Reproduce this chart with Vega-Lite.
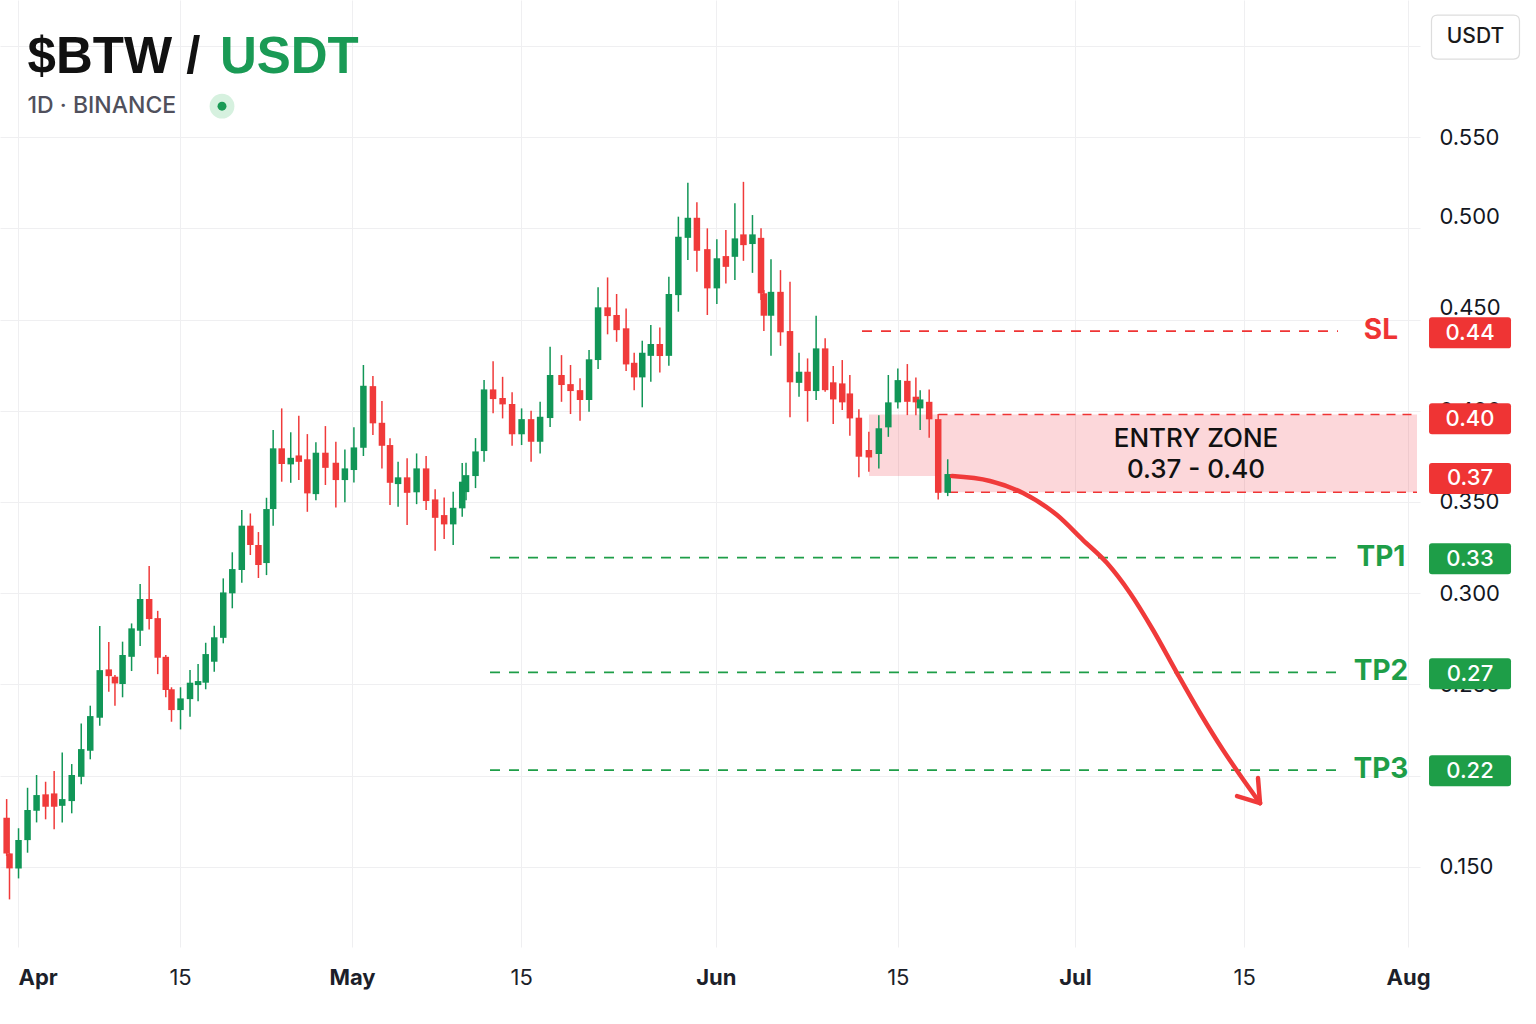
{
  "$schema": "https://vega.github.io/schema/vega-lite/v6.json",
  "width": 1420,
  "height": 947,
  "autosize": {"type": "none"},
  "padding": {"left": 0, "top": 0, "right": 116, "bottom": 77},
  "background": "#ffffff",
  "config": {"view": {"stroke": null}, "font": "Inter"},
  "datasets": {
    "candles": [
      {"t": "2025-03-31T02:00Z", "open": 0.1769, "high": 0.1871, "low": 0.1559, "close": 0.1573},
      {"t": "2025-03-31T08:00Z", "open": 0.1573, "high": 0.1575, "low": 0.1321, "close": 0.1491},
      {"t": "2025-04-01T03:00Z", "open": 0.1491, "high": 0.1711, "low": 0.1436, "close": 0.1646},
      {"t": "2025-04-01T22:00Z", "open": 0.1646, "high": 0.1933, "low": 0.1577, "close": 0.1811},
      {"t": "2025-04-02T17:00Z", "open": 0.1807, "high": 0.2003, "low": 0.1743, "close": 0.1893},
      {"t": "2025-04-03T12:00Z", "open": 0.1897, "high": 0.1966, "low": 0.1760, "close": 0.1829},
      {"t": "2025-04-04T06:00Z", "open": 0.1902, "high": 0.2025, "low": 0.1705, "close": 0.1829},
      {"t": "2025-04-04T23:00Z", "open": 0.1834, "high": 0.2127, "low": 0.1743, "close": 0.1871},
      {"t": "2025-04-05T19:00Z", "open": 0.1860, "high": 0.2063, "low": 0.1793, "close": 0.2003},
      {"t": "2025-04-06T15:00Z", "open": 0.1993, "high": 0.2286, "low": 0.1952, "close": 0.2145},
      {"t": "2025-04-07T10:00Z", "open": 0.2136, "high": 0.2383, "low": 0.2089, "close": 0.2326},
      {"t": "2025-04-08T06:00Z", "open": 0.2317, "high": 0.2820, "low": 0.2273, "close": 0.2578},
      {"t": "2025-04-09T01:00Z", "open": 0.2582, "high": 0.2732, "low": 0.2459, "close": 0.2545},
      {"t": "2025-04-09T14:00Z", "open": 0.2542, "high": 0.2551, "low": 0.2383, "close": 0.2505},
      {"t": "2025-04-10T06:00Z", "open": 0.2502, "high": 0.2734, "low": 0.2429, "close": 0.2661},
      {"t": "2025-04-11T01:00Z", "open": 0.2651, "high": 0.2834, "low": 0.2573, "close": 0.2807},
      {"t": "2025-04-11T19:00Z", "open": 0.2794, "high": 0.3050, "low": 0.2710, "close": 0.2968},
      {"t": "2025-04-12T14:00Z", "open": 0.2968, "high": 0.3149, "low": 0.2801, "close": 0.2858},
      {"t": "2025-04-13T08:00Z", "open": 0.2863, "high": 0.2903, "low": 0.2556, "close": 0.2646},
      {"t": "2025-04-14T01:00Z", "open": 0.2651, "high": 0.2661, "low": 0.2429, "close": 0.2469},
      {"t": "2025-04-14T13:00Z", "open": 0.2473, "high": 0.2484, "low": 0.2295, "close": 0.2359},
      {"t": "2025-04-15T08:00Z", "open": 0.2359, "high": 0.2484, "low": 0.2253, "close": 0.2423},
      {"t": "2025-04-16T04:00Z", "open": 0.2419, "high": 0.2578, "low": 0.2322, "close": 0.2509},
      {"t": "2025-04-16T21:00Z", "open": 0.2496, "high": 0.2611, "low": 0.2408, "close": 0.2518},
      {"t": "2025-04-17T13:00Z", "open": 0.2509, "high": 0.2728, "low": 0.2473, "close": 0.2666},
      {"t": "2025-04-18T07:00Z", "open": 0.2624, "high": 0.2821, "low": 0.2569, "close": 0.2758},
      {"t": "2025-04-19T02:00Z", "open": 0.2755, "high": 0.3081, "low": 0.2725, "close": 0.3004},
      {"t": "2025-04-19T21:00Z", "open": 0.2999, "high": 0.3224, "low": 0.2917, "close": 0.3132},
      {"t": "2025-04-20T17:00Z", "open": 0.3127, "high": 0.3456, "low": 0.3057, "close": 0.3370},
      {"t": "2025-04-21T11:00Z", "open": 0.3370, "high": 0.3437, "low": 0.3209, "close": 0.3264},
      {"t": "2025-04-22T04:00Z", "open": 0.3264, "high": 0.3335, "low": 0.3083, "close": 0.3154},
      {"t": "2025-04-22T21:00Z", "open": 0.3165, "high": 0.3523, "low": 0.3099, "close": 0.3461},
      {"t": "2025-04-23T11:00Z", "open": 0.3461, "high": 0.3894, "low": 0.3370, "close": 0.3794},
      {"t": "2025-04-24T05:00Z", "open": 0.3794, "high": 0.4013, "low": 0.3611, "close": 0.3708},
      {"t": "2025-04-25T00:00Z", "open": 0.3706, "high": 0.3882, "low": 0.3605, "close": 0.3742},
      {"t": "2025-04-25T17:00Z", "open": 0.3755, "high": 0.3973, "low": 0.3620, "close": 0.3720},
      {"t": "2025-04-26T11:00Z", "open": 0.3734, "high": 0.3872, "low": 0.3446, "close": 0.3547},
      {"t": "2025-04-27T05:00Z", "open": 0.3543, "high": 0.3827, "low": 0.3510, "close": 0.3770},
      {"t": "2025-04-28T01:00Z", "open": 0.3770, "high": 0.3916, "low": 0.3593, "close": 0.3687},
      {"t": "2025-04-28T23:00Z", "open": 0.3715, "high": 0.3830, "low": 0.3470, "close": 0.3620},
      {"t": "2025-04-29T18:00Z", "open": 0.3620, "high": 0.3788, "low": 0.3498, "close": 0.3684},
      {"t": "2025-04-30T13:00Z", "open": 0.3675, "high": 0.3909, "low": 0.3607, "close": 0.3799},
      {"t": "2025-05-01T09:00Z", "open": 0.3797, "high": 0.4251, "low": 0.3752, "close": 0.4137},
      {"t": "2025-05-02T05:00Z", "open": 0.4135, "high": 0.4190, "low": 0.3867, "close": 0.3931},
      {"t": "2025-05-03T00:00Z", "open": 0.3934, "high": 0.4053, "low": 0.3684, "close": 0.3808},
      {"t": "2025-05-03T17:00Z", "open": 0.3812, "high": 0.3849, "low": 0.3483, "close": 0.3605},
      {"t": "2025-05-04T10:00Z", "open": 0.3598, "high": 0.3720, "low": 0.3474, "close": 0.3635},
      {"t": "2025-05-05T05:00Z", "open": 0.3635, "high": 0.3739, "low": 0.3373, "close": 0.3550},
      {"t": "2025-05-06T01:00Z", "open": 0.3553, "high": 0.3766, "low": 0.3488, "close": 0.3684},
      {"t": "2025-05-06T21:00Z", "open": 0.3684, "high": 0.3752, "low": 0.3456, "close": 0.3505},
      {"t": "2025-05-07T16:00Z", "open": 0.3514, "high": 0.3569, "low": 0.3232, "close": 0.3413},
      {"t": "2025-05-08T11:00Z", "open": 0.3428, "high": 0.3525, "low": 0.3297, "close": 0.3377},
      {"t": "2025-05-09T06:00Z", "open": 0.3377, "high": 0.3556, "low": 0.3264, "close": 0.3468},
      {"t": "2025-05-10T01:00Z", "open": 0.3465, "high": 0.3713, "low": 0.3419, "close": 0.3611},
      {"t": "2025-05-10T09:00Z", "open": 0.3554, "high": 0.3715, "low": 0.3510, "close": 0.3647},
      {"t": "2025-05-11T05:00Z", "open": 0.3642, "high": 0.3850, "low": 0.3576, "close": 0.3777},
      {"t": "2025-05-11T23:00Z", "open": 0.3779, "high": 0.4168, "low": 0.3720, "close": 0.4117},
      {"t": "2025-05-12T18:00Z", "open": 0.4117, "high": 0.4272, "low": 0.3986, "close": 0.4064},
      {"t": "2025-05-13T14:00Z", "open": 0.4070, "high": 0.4186, "low": 0.3958, "close": 0.4035},
      {"t": "2025-05-14T10:00Z", "open": 0.4037, "high": 0.4101, "low": 0.3808, "close": 0.3871},
      {"t": "2025-05-15T06:00Z", "open": 0.3871, "high": 0.4013, "low": 0.3812, "close": 0.3954},
      {"t": "2025-05-16T02:00Z", "open": 0.3954, "high": 0.4000, "low": 0.3720, "close": 0.3830},
      {"t": "2025-05-16T21:00Z", "open": 0.3830, "high": 0.4049, "low": 0.3766, "close": 0.3967},
      {"t": "2025-05-17T18:00Z", "open": 0.3960, "high": 0.4351, "low": 0.3911, "close": 0.4196},
      {"t": "2025-05-18T18:00Z", "open": 0.4196, "high": 0.4305, "low": 0.4049, "close": 0.4141},
      {"t": "2025-05-19T13:00Z", "open": 0.4146, "high": 0.4251, "low": 0.3982, "close": 0.4108},
      {"t": "2025-05-20T09:00Z", "open": 0.4113, "high": 0.4178, "low": 0.3945, "close": 0.4059},
      {"t": "2025-05-21T04:00Z", "open": 0.4059, "high": 0.4333, "low": 0.3995, "close": 0.4282},
      {"t": "2025-05-21T23:00Z", "open": 0.4278, "high": 0.4677, "low": 0.4229, "close": 0.4567},
      {"t": "2025-05-22T19:00Z", "open": 0.4567, "high": 0.4731, "low": 0.4419, "close": 0.4519},
      {"t": "2025-05-23T14:00Z", "open": 0.4525, "high": 0.4640, "low": 0.4378, "close": 0.4442},
      {"t": "2025-05-24T10:00Z", "open": 0.4452, "high": 0.4561, "low": 0.4218, "close": 0.4254},
      {"t": "2025-05-25T03:00Z", "open": 0.4263, "high": 0.4318, "low": 0.4113, "close": 0.4183},
      {"t": "2025-05-25T20:00Z", "open": 0.4183, "high": 0.4384, "low": 0.4019, "close": 0.4318},
      {"t": "2025-05-26T14:00Z", "open": 0.4301, "high": 0.4470, "low": 0.4159, "close": 0.4366},
      {"t": "2025-05-27T09:00Z", "open": 0.4366, "high": 0.4457, "low": 0.4210, "close": 0.4300},
      {"t": "2025-05-28T04:00Z", "open": 0.4301, "high": 0.4735, "low": 0.4247, "close": 0.4640},
      {"t": "2025-05-29T00:00Z", "open": 0.4634, "high": 0.5064, "low": 0.4543, "close": 0.4954},
      {"t": "2025-05-29T20:00Z", "open": 0.4948, "high": 0.5250, "low": 0.4826, "close": 0.5058},
      {"t": "2025-05-30T15:00Z", "open": 0.5058, "high": 0.5143, "low": 0.4762, "close": 0.4877},
      {"t": "2025-05-31T13:00Z", "open": 0.4886, "high": 0.5000, "low": 0.4525, "close": 0.4671},
      {"t": "2025-06-01T09:00Z", "open": 0.4671, "high": 0.4940, "low": 0.4585, "close": 0.4836},
      {"t": "2025-06-02T04:00Z", "open": 0.4848, "high": 0.4991, "low": 0.4698, "close": 0.4789},
      {"t": "2025-06-02T23:00Z", "open": 0.4844, "high": 0.5137, "low": 0.4717, "close": 0.4945},
      {"t": "2025-06-03T17:00Z", "open": 0.4967, "high": 0.5255, "low": 0.4822, "close": 0.4908},
      {"t": "2025-06-04T12:00Z", "open": 0.4914, "high": 0.5073, "low": 0.4756, "close": 0.4967},
      {"t": "2025-06-05T06:00Z", "open": 0.4948, "high": 0.5000, "low": 0.4607, "close": 0.4644},
      {"t": "2025-06-05T12:00Z", "open": 0.4644, "high": 0.4662, "low": 0.4437, "close": 0.4521},
      {"t": "2025-06-06T03:00Z", "open": 0.4521, "high": 0.4830, "low": 0.4301, "close": 0.4652},
      {"t": "2025-06-06T23:00Z", "open": 0.4652, "high": 0.4771, "low": 0.4356, "close": 0.4430},
      {"t": "2025-06-07T19:00Z", "open": 0.4437, "high": 0.4707, "low": 0.3964, "close": 0.4156},
      {"t": "2025-06-08T14:00Z", "open": 0.4153, "high": 0.4318, "low": 0.4077, "close": 0.4214},
      {"t": "2025-06-09T08:00Z", "open": 0.4214, "high": 0.4287, "low": 0.3940, "close": 0.4108},
      {"t": "2025-06-10T02:00Z", "open": 0.4108, "high": 0.4521, "low": 0.4059, "close": 0.4342},
      {"t": "2025-06-10T21:00Z", "open": 0.4342, "high": 0.4397, "low": 0.4104, "close": 0.4113},
      {"t": "2025-06-11T14:00Z", "open": 0.4156, "high": 0.4245, "low": 0.3927, "close": 0.4062},
      {"t": "2025-06-12T09:00Z", "open": 0.4150, "high": 0.4278, "low": 0.4004, "close": 0.4046},
      {"t": "2025-06-13T01:00Z", "open": 0.4095, "high": 0.4196, "low": 0.3863, "close": 0.3958},
      {"t": "2025-06-13T20:00Z", "open": 0.3962, "high": 0.4008, "low": 0.3635, "close": 0.3748},
      {"t": "2025-06-14T17:00Z", "open": 0.3785, "high": 0.3885, "low": 0.3665, "close": 0.3744},
      {"t": "2025-06-15T14:00Z", "open": 0.3763, "high": 0.3976, "low": 0.3684, "close": 0.3904},
      {"t": "2025-06-16T10:00Z", "open": 0.3909, "high": 0.4196, "low": 0.3857, "close": 0.4046},
      {"t": "2025-06-17T06:00Z", "open": 0.4046, "high": 0.4232, "low": 0.4013, "close": 0.4168},
      {"t": "2025-06-18T02:00Z", "open": 0.4164, "high": 0.4256, "low": 0.3976, "close": 0.4049},
      {"t": "2025-06-18T20:00Z", "open": 0.4077, "high": 0.4183, "low": 0.3976, "close": 0.4046},
      {"t": "2025-06-19T05:00Z", "open": 0.4013, "high": 0.4113, "low": 0.3894, "close": 0.4062},
      {"t": "2025-06-20T00:00Z", "open": 0.4049, "high": 0.4117, "low": 0.3852, "close": 0.3953},
      {"t": "2025-06-20T19:00Z", "open": 0.3954, "high": 0.3982, "low": 0.3514, "close": 0.3550},
      {"t": "2025-06-21T15:00Z", "open": 0.3550, "high": 0.3734, "low": 0.3532, "close": 0.3653}
    ],
    "zone": [
      {"start": "2025-06-14T17:19Z", "end": "2025-06-20T19:37Z", "top": 0.398, "bottom": 0.3642},
      {"start": "2025-06-20T19:37Z", "end": "2025-08-01T18:54Z", "top": 0.398, "bottom": 0.3553}
    ],
    "zoneEdges": [
      {"start": "2025-06-20T19:37Z", "end": "2025-08-01T18:54Z", "price": 0.398},
      {"start": "2025-06-21T17:43Z", "end": "2025-08-01T18:54Z", "price": 0.3553}
    ],
    "levels": [
      {"level": "SL", "kind": "stop", "price": 0.4437, "start": "2025-06-14T02:35Z", "end": "2025-07-25T20:36Z"},
      {"level": "TP1", "kind": "target", "price": 0.3195, "start": "2025-05-12T11:30Z", "end": "2025-07-25T20:36Z"},
      {"level": "TP2", "kind": "target", "price": 0.2566, "start": "2025-05-12T11:30Z", "end": "2025-07-25T20:36Z"},
      {"level": "TP3", "kind": "target", "price": 0.2030, "start": "2025-05-12T11:30Z", "end": "2025-07-25T20:36Z"}
    ],
    "badges": [
      {"label": "0.44", "kind": "stop", "price": 0.4427},
      {"label": "0.40", "kind": "stop", "price": 0.3956},
      {"label": "0.37", "kind": "stop", "price": 0.3629},
      {"label": "0.33", "kind": "target", "price": 0.3189},
      {"label": "0.27", "kind": "target", "price": 0.2558},
      {"label": "0.22", "kind": "target", "price": 0.2026}
    ],
    "arrow": [
      {"t": "2025-06-22T00:02Z", "price": 0.3642},
      {"t": "2025-06-25T08:00Z", "price": 0.3615},
      {"t": "2025-06-28T05:30Z", "price": 0.3549},
      {"t": "2025-07-01T05:04Z", "price": 0.3428},
      {"t": "2025-07-03T11:48Z", "price": 0.3291},
      {"t": "2025-07-05T14:19Z", "price": 0.3165},
      {"t": "2025-07-07T14:44Z", "price": 0.3001},
      {"t": "2025-07-09T15:10Z", "price": 0.2798},
      {"t": "2025-07-11T17:41Z", "price": 0.2562},
      {"t": "2025-07-13T18:06Z", "price": 0.2343},
      {"t": "2025-07-15T18:31Z", "price": 0.2140},
      {"t": "2025-07-17T06:18Z", "price": 0.2003},
      {"t": "2025-07-19T00:24Z", "price": 0.1849}
    ],
    "arrowHead": [
      {"from": "2025-07-17T00:00Z", "fromPrice": 0.1887, "to": "2025-07-19T00:24Z", "toPrice": 0.1849},
      {"from": "2025-07-18T20:11Z", "fromPrice": 0.1986, "to": "2025-07-19T00:24Z", "toPrice": 0.1849}
    ]
  },
  "layer": [
    {
      "data": {"name": "zone"},
      "mark": {"type": "rect", "color": "#f23645", "opacity": 0.2},
      "encoding": {
        "x": {
          "field": "start", "type": "temporal",
          "scale": {"type": "utc", "nice": false, "padding": 0, "domain": [
            {"year": 2025, "month": 3, "date": 30, "hours": 12, "utc": true},
            {"year": 2025, "month": 8, "date": 2, "hours": 1, "minutes": 12, "utc": true}
          ]},
          "axis": {
            "title": null,
            "values": [
              {"year": 2025, "month": 4, "date": 1, "hours": 2, "utc": true},
              {"year": 2025, "month": 4, "date": 15, "hours": 7, "utc": true},
              {"year": 2025, "month": 4, "date": 30, "hours": 9, "utc": true},
              {"year": 2025, "month": 5, "date": 15, "hours": 5, "utc": true},
              {"year": 2025, "month": 6, "date": 1, "hours": 7, "utc": true},
              {"year": 2025, "month": 6, "date": 17, "hours": 6, "utc": true},
              {"year": 2025, "month": 7, "date": 2, "hours": 19, "utc": true},
              {"year": 2025, "month": 7, "date": 17, "hours": 15, "utc": true},
              {"year": 2025, "month": 8, "date": 1, "hours": 0, "utc": true}
            ],
            "labelExpr": "utcdate(time(datum.value) + 432000000) <= 10 ? utcFormat(time(datum.value) + 432000000, '%b') : '15'",
            "labelFontWeight": {"condition": {"test": "utcdate(time(datum.value) + 432000000) <= 10", "value": "bold"}, "value": "normal"},
            "labelAlign": {"condition": {"test": "time(datum.value) < 1743800000000", "value": "left"}, "value": "center"},
            "labelFont": "Inter", "labelFontSize": 22, "labelColor": "#1c1f2a",
            "labelPadding": 20, "labelFlush": false, "labelOverlap": false,
            "grid": true, "gridColor": "#efeff1", "ticks": false, "domain": false
          }
        },
        "x2": {"field": "end"},
        "y": {
          "field": "top", "type": "quantitative",
          "scale": {"domain": [0.106, 0.6252], "nice": false, "zero": false, "padding": 0},
          "axis": {
            "title": null, "orient": "right",
            "values": [0.15, 0.2, 0.25, 0.3, 0.35, 0.4, 0.45, 0.5, 0.55, 0.6],
            "format": ".3f",
            "labelBaseline": {"condition": {"test": "datum.value > 0.449 && datum.value < 0.501", "value": "bottom"}, "value": "middle"},
            "labelFont": "Inter", "labelFontSize": 22, "labelColor": "#131722",
            "labelPadding": 19, "labelOverlap": false,
            "grid": true, "gridColor": "#efeff1", "ticks": false, "domain": false
          }
        },
        "y2": {"field": "bottom"}
      }
    },
    {
      "data": {"name": "zoneEdges"},
      "mark": {"type": "rule", "color": "#ef3434", "strokeWidth": 1.5, "strokeDash": [9, 7]},
      "encoding": {
        "x": {"field": "start", "type": "temporal"},
        "x2": {"field": "end"},
        "y": {"field": "price", "type": "quantitative"}
      }
    },
    {
      "data": {"name": "levels"},
      "mark": {"type": "rule", "strokeWidth": 1.8, "strokeDash": [10, 9]},
      "encoding": {
        "x": {"field": "start", "type": "temporal"},
        "x2": {"field": "end"},
        "y": {"field": "price", "type": "quantitative"},
        "color": {"field": "kind", "type": "nominal", "legend": null,
          "scale": {"domain": ["stop", "target"], "range": ["#ef3434", "#1e9e48"]}}
      }
    },
    {
      "data": {"name": "candles"},
      "mark": {"type": "rule", "strokeWidth": 1.5},
      "encoding": {
        "x": {"field": "t", "type": "temporal"},
        "y": {"field": "low", "type": "quantitative"},
        "y2": {"field": "high"},
        "color": {"condition": {"test": "datum.close >= datum.open", "value": "#119657"}, "value": "#f03a3a"}
      }
    },
    {
      "data": {"name": "candles"},
      "mark": {"type": "bar", "width": 6.5},
      "encoding": {
        "x": {"field": "t", "type": "temporal"},
        "y": {"field": "open", "type": "quantitative"},
        "y2": {"field": "close"},
        "color": {"condition": {"test": "datum.close >= datum.open", "value": "#119657"}, "value": "#f03a3a"}
      }
    },
    {
      "data": {"name": "arrow"},
      "mark": {"type": "line", "color": "#f03a3a", "strokeWidth": 4.5, "interpolate": "monotone", "strokeCap": "round"},
      "encoding": {
        "x": {"field": "t", "type": "temporal"},
        "y": {"field": "price", "type": "quantitative"}
      }
    },
    {
      "data": {"name": "arrowHead"},
      "mark": {"type": "rule", "color": "#f03a3a", "strokeWidth": 4.5, "strokeCap": "round"},
      "encoding": {
        "x": {"field": "from", "type": "temporal"},
        "x2": {"field": "to"},
        "y": {"field": "fromPrice", "type": "quantitative"},
        "y2": {"field": "toPrice"}
      }
    },
    {
      "data": {"name": "levels"},
      "mark": {"type": "text", "fontSize": 28, "fontWeight": "bold", "align": "center", "baseline": "middle"},
      "encoding": {
        "x": {"datum": {"year": 2025, "month": 7, "date": 29, "hours": 15, "utc": true}, "type": "temporal"},
        "y": {"field": "price", "type": "quantitative"},
        "text": {"field": "level"},
        "color": {"field": "kind", "type": "nominal", "legend": null}
      }
    },
    {
      "data": {"name": "badges"},
      "mark": {"type": "point", "filled": true, "opacity": 1, "strokeWidth": 0, "size": 6724,
        "shape": "M-0.927,-0.378 L0.927,-0.378 Q1,-0.378 1,-0.305 L1,0.305 Q1,0.378 0.927,0.378 L-0.927,0.378 Q-1,0.378 -1,0.305 L-1,-0.305 Q-1,-0.378 -0.927,-0.378 Z"},
      "encoding": {
        "x": {"datum": {"year": 2025, "month": 8, "date": 6, "hours": 10, "minutes": 30, "utc": true}, "type": "temporal"},
        "y": {"field": "price", "type": "quantitative"},
        "color": {"field": "kind", "type": "nominal", "legend": null}
      }
    },
    {
      "data": {"name": "badges"},
      "mark": {"type": "text", "fontSize": 22, "fontWeight": 500, "color": "#ffffff", "align": "center", "baseline": "middle"},
      "encoding": {
        "x": {"datum": {"year": 2025, "month": 8, "date": 6, "hours": 10, "minutes": 30, "utc": true}, "type": "temporal"},
        "y": {"field": "price", "type": "quantitative"},
        "text": {"field": "label"}
      }
    },
    {
      "data": {"values": [{"label": "ENTRY ZONE\n0.37 - 0.40"}]},
      "mark": {"type": "text", "fontSize": 26, "fontWeight": 500, "color": "#111111", "align": "center", "baseline": "middle", "lineBreak": "\n", "lineHeight": 31},
      "encoding": {
        "x": {"datum": {"year": 2025, "month": 7, "date": 13, "hours": 9, "minutes": 41, "utc": true}, "type": "temporal"},
        "y": {"datum": 0.3845, "type": "quantitative"},
        "text": {"field": "label"}
      }
    },
    {
      "data": {"values": [{"label": "$BTW /"}]},
      "mark": {"type": "text", "font": "Liberation Sans", "fontSize": 51, "fontWeight": "bold", "color": "#111111", "align": "left", "baseline": "alphabetic"},
      "encoding": {
        "x": {"datum": {"year": 2025, "month": 4, "date": 1, "hours": 22, "utc": true}, "type": "temporal"},
        "y": {"datum": 0.5851, "type": "quantitative"},
        "text": {"field": "label"}
      }
    },
    {
      "data": {"values": [{"label": "USDT"}]},
      "mark": {"type": "text", "font": "Liberation Sans", "fontSize": 51, "fontWeight": "bold", "color": "#1a9a55", "align": "left", "baseline": "alphabetic"},
      "encoding": {
        "x": {"datum": {"year": 2025, "month": 4, "date": 18, "hours": 19, "utc": true}, "type": "temporal"},
        "y": {"datum": 0.5851, "type": "quantitative"},
        "text": {"field": "label"}
      }
    },
    {
      "data": {"values": [{"label": "1D · BINANCE"}]},
      "mark": {"type": "text", "fontSize": 23, "fontWeight": 500, "color": "#50505c", "align": "left", "baseline": "middle"},
      "encoding": {
        "x": {"datum": {"year": 2025, "month": 4, "date": 1, "hours": 22, "utc": true}, "type": "temporal"},
        "y": {"datum": 0.567, "type": "quantitative"},
        "text": {"field": "label"}
      }
    },
    {
      "data": {"values": [{"ring": "outer"}]},
      "mark": {"type": "point", "shape": "circle", "filled": true, "opacity": 1, "size": 615, "color": "#d6f1df"},
      "encoding": {
        "x": {"datum": {"year": 2025, "month": 4, "date": 18, "hours": 23, "minutes": 20, "utc": true}, "type": "temporal"},
        "y": {"datum": 0.567, "type": "quantitative"}
      }
    },
    {
      "data": {"values": [{"ring": "inner"}]},
      "mark": {"type": "point", "shape": "circle", "filled": true, "opacity": 1, "size": 80, "color": "#1a9a55"},
      "encoding": {
        "x": {"datum": {"year": 2025, "month": 4, "date": 18, "hours": 23, "minutes": 20, "utc": true}, "type": "temporal"},
        "y": {"datum": 0.567, "type": "quantitative"}
      }
    },
    {
      "data": {"values": [{"label": "USDT"}]},
      "mark": {"type": "point", "filled": true, "opacity": 1, "size": 7744, "fill": "#ffffff", "stroke": "#dddddd", "strokeWidth": 1.2,
        "shape": "M-0.864,-0.5 L0.864,-0.5 Q1,-0.5 1,-0.364 L1,0.364 Q1,0.5 0.864,0.5 L-0.864,0.5 Q-1,0.5 -1,0.364 L-1,-0.364 Q-1,-0.5 -0.864,-0.5 Z"},
      "encoding": {
        "x": {"datum": {"year": 2025, "month": 8, "date": 6, "hours": 22, "utc": true}, "type": "temporal"},
        "y": {"datum": 0.6049, "type": "quantitative"}
      }
    },
    {
      "data": {"values": [{"label": "USDT"}]},
      "mark": {"type": "text", "fontSize": 21, "fontWeight": 500, "color": "#1a1a1a", "align": "center", "baseline": "middle"},
      "encoding": {
        "x": {"datum": {"year": 2025, "month": 8, "date": 6, "hours": 22, "utc": true}, "type": "temporal"},
        "y": {"datum": 0.6049, "type": "quantitative"},
        "text": {"field": "label"}
      }
    }
  ]
}
